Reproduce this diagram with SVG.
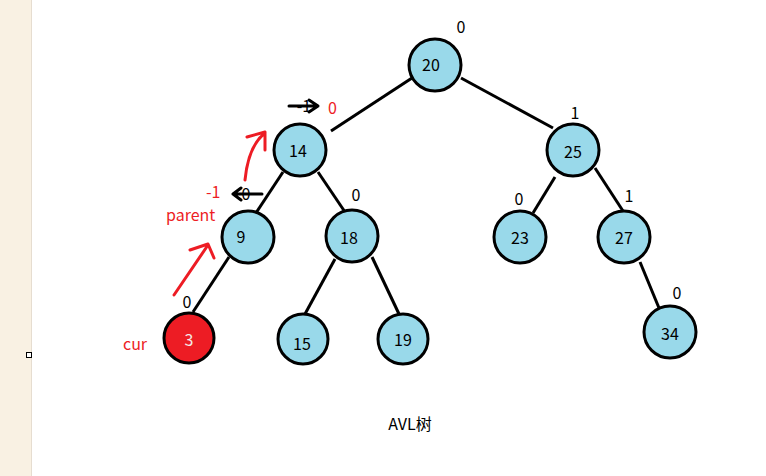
<svg xmlns="http://www.w3.org/2000/svg" width="766" height="476" viewBox="0 0 766 476">
<style>
.n{fill:#99d9ea;stroke:#000;stroke-width:3}
.r{fill:#ed1c24;stroke:#000;stroke-width:3}
.t{font-family:"Noto Sans CJK SC","Noto Sans",sans-serif;font-size:16px;fill:#000;text-anchor:middle}
.lr{font-family:"Noto Sans CJK SC","Noto Sans",sans-serif;font-size:16px;fill:#ed1c24}
.e{stroke:#000;stroke-width:3;fill:none}
.ra{stroke:#ed1c24;stroke-width:3;fill:none;stroke-linecap:round;stroke-linejoin:round}
.ba{stroke:#000;stroke-width:3;fill:none;stroke-linecap:round;stroke-linejoin:round}
</style>
<rect x="0" y="0" width="766" height="476" fill="#fff"/>
<rect x="0" y="0" width="31" height="476" fill="#f9f1e3"/>
<line x1="31.5" y1="0" x2="31.5" y2="476" stroke="#e6ddd0" stroke-width="1"/>
<rect x="26.5" y="352.5" width="5" height="5" fill="#fff" stroke="#000" stroke-width="1"/>
<g id="connectors">
<line class="e" x1="331" y1="131" x2="412" y2="78"/>
<line class="e" x1="461" y1="78" x2="553" y2="128"/>
<line class="e" x1="283" y1="172" x2="254" y2="216"/>
<line class="e" x1="318" y1="172" x2="345" y2="212"/>
<line class="e" x1="555" y1="177" x2="533" y2="213"/>
<line class="e" x1="595" y1="168" x2="623" y2="211"/>
<line class="e" x1="335" y1="259" x2="305" y2="314"/>
<line class="e" x1="372" y1="257" x2="399" y2="314"/>
<line class="e" x1="229" y1="257" x2="193" y2="312"/>
<line class="e" x1="640" y1="262" x2="659" y2="308"/>
</g>
<g id="n20"><circle class="n" cx="435" cy="65" r="26"/><text class="t" x="431" y="71">20</text></g>
<g id="n14"><circle class="n" cx="300" cy="150" r="26"/><text class="t" x="298" y="157">14</text></g>
<g id="n25"><circle class="n" cx="573" cy="150" r="26"/><text class="t" x="573" y="158">25</text></g>
<g id="n9"><circle class="n" cx="248" cy="237" r="26"/><text class="t" x="241" y="243">9</text></g>
<g id="n18"><circle class="n" cx="352" cy="236" r="26"/><text class="t" x="349" y="244">18</text></g>
<g id="n23"><circle class="n" cx="520" cy="237" r="26"/><text class="t" x="520" y="244">23</text></g>
<g id="n27"><circle class="n" cx="624" cy="237" r="26"/><text class="t" x="624" y="244">27</text></g>
<g id="n3"><circle class="r" cx="189" cy="338" r="25"/><text class="t" x="189" y="346" style="fill:#f4e8e8">3</text></g>
<g id="n15"><circle class="n" cx="303" cy="339" r="25"/><text class="t" x="302" y="350">15</text></g>
<g id="n19"><circle class="n" cx="403" cy="339" r="25"/><text class="t" x="403" y="346">19</text></g>
<g id="n34"><circle class="n" cx="670" cy="332" r="26"/><text class="t" x="670" y="340">34</text></g>
<g id="labels">
<text class="t" x="461" y="33">0</text>
<text class="t" x="575" y="119">1</text>
<text class="t" x="519" y="205">0</text>
<text class="t" x="629" y="202">1</text>
<text class="t" x="356" y="201">0</text>
<text class="t" x="677" y="299">0</text>
<text class="t" x="187" y="308">0</text>
<text class="t" x="304" y="112">-1</text>
<path class="ba" d="M289 106 H318 M309 100 L318 106 L309 112"/>
<text class="lr" x="328" y="114">0</text>
<text class="t" x="246" y="200">0</text>
<path class="ba" d="M262 194 H233 M241 188 L233 194 L241 200"/>
<text class="lr" x="206" y="198">-1</text>
<text class="lr" x="166" y="221">parent</text>
<text class="lr" x="123" y="350">cur</text>
<path class="ra" d="M245 180 C247 160 252 143 265 133 M247 137 L265 132 L265 150"/>
<path class="ra" d="M174 295 L208 245 M190 250 L208 244 L214 258"/>
<text class="t" x="410" y="430">AVL树</text>
</g>
</svg>
